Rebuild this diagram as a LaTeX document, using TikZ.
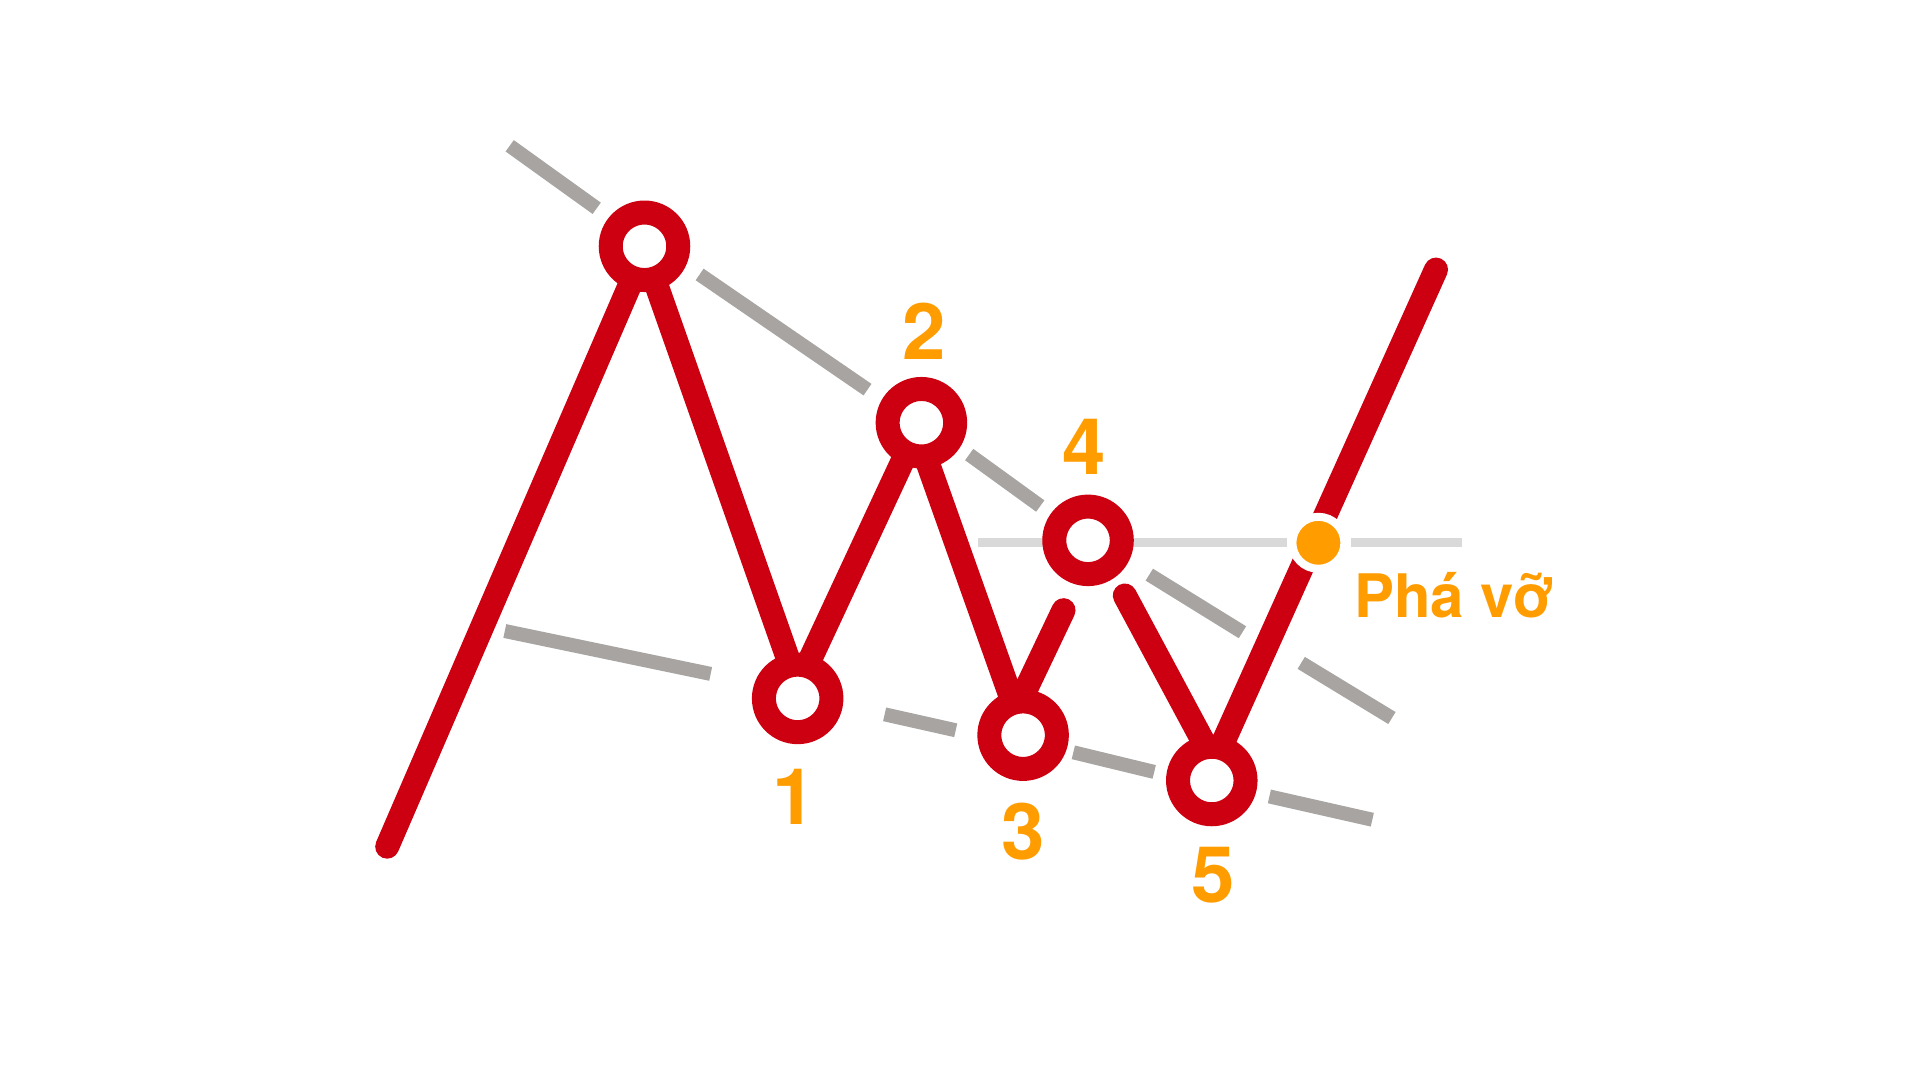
\documentclass[tikz,border=0pt]{standalone}
\usepackage{fontspec}
\setmainfont{TeX Gyre Heros}
\definecolor{cred}{RGB}{204,0,17}
\definecolor{corange}{RGB}{255,157,0}
\definecolor{cgray}{RGB}{167,164,162}
\definecolor{clight}{RGB}{217,217,217}
\begin{document}
\begin{tikzpicture}[x=1.2253pt,y=-1.2253pt,
  redline/.style={draw=cred,line width=24pt,line cap=round,line join=round},
  graybar/.style={draw=cgray,line width=14pt},
  lightbar/.style={draw=clight,line width=9pt},
  ring/.style={circle,draw=cred,fill=white,line width=24pt,minimum size=67.5pt,inner sep=0pt,outer sep=0pt},
  breakdot/.style={circle,draw=white,fill=corange,line width=8pt,minimum size=52pt,inner sep=0pt,outer sep=0pt},
  numlbl/.style={text=corange,font=\fontsize{78}{80}\selectfont\bfseries,inner sep=0pt},
  brklbl/.style={text=corange,font=\fontsize{60}{66}\selectfont\bfseries,inner sep=0pt}]
\fill[white] (0,0) rectangle (1567,881.4);
\useasboundingbox (0,0) rectangle (1567,881.4);
% free ends and path vertices
\coordinate (s0) at (316,691);
\coordinate (vA) at (526,205);
\coordinate (v1) at (651,560);
\coordinate (v2) at (748,352);
\coordinate (v3) at (829,580);
\coordinate (e3) at (868,498);
\coordinate (s5) at (918,486);
\coordinate (v5) at (991,622);
\coordinate (eT) at (1172,220);
\coordinate (l1a) at (798,443); \coordinate (l1b) at (1050,443);
\coordinate (l2a) at (1103,443); \coordinate (l2b) at (1193,443);
% light gray level
\draw[lightbar] (l1a) -- (l1b);
\draw[lightbar] (l2a) -- (l2b);
% gray trend bars
\coordinate (g1a) at (416,119); \coordinate (g1b) at (487,170);
\coordinate (g2a) at (571,224); \coordinate (g2b) at (708,318);
\coordinate (g3a) at (791,371); \coordinate (g3b) at (849,413);
\coordinate (g4a) at (938,469); \coordinate (g4b) at (1014,516);
\coordinate (g5a) at (1062,541); \coordinate (g5b) at (1136,586);
\coordinate (g6a) at (412,515); \coordinate (g6b) at (580,550);
\coordinate (g7a) at (722,583); \coordinate (g7b) at (780,596);
\coordinate (g8a) at (876,614); \coordinate (g8b) at (942,630);
\coordinate (g9a) at (1036,650); \coordinate (g9b) at (1120,669);
\foreach \g in {1,...,9} {\draw[graybar] (g\g a) -- (g\g b);}
% red price path
\draw[redline] (s0) -- (vA) -- (v1) -- (v2) -- (v3) -- (e3);
\draw[redline] (s5) -- (v5) -- (eT);
% rings
\node[ring] (nA) at (526,201) {};
\node[ring] (n1) at (651,570) {};
\node[ring] (n2) at (752,345) {};
\node[ring] (n3) at (835,600) {};
\node[ring] (n4) at (888,441) {};
\node[ring] (n5) at (989,637) {};
\node[breakdot] (nB) at (1076,443) {};
% labels
\node[numlbl] (t1) at (648,650) {1};
\node[numlbl] (t2) at (754,270) {2};
\node[numlbl] (t3) at (835,679) {3};
\node[numlbl] (t4) at (885,365) {4};
\node[numlbl] (t5) at (990,714) {5};
\node[brklbl,anchor=base west] (tB) at (1105,504) {Phá vỡ};
\end{tikzpicture}
\end{document}
